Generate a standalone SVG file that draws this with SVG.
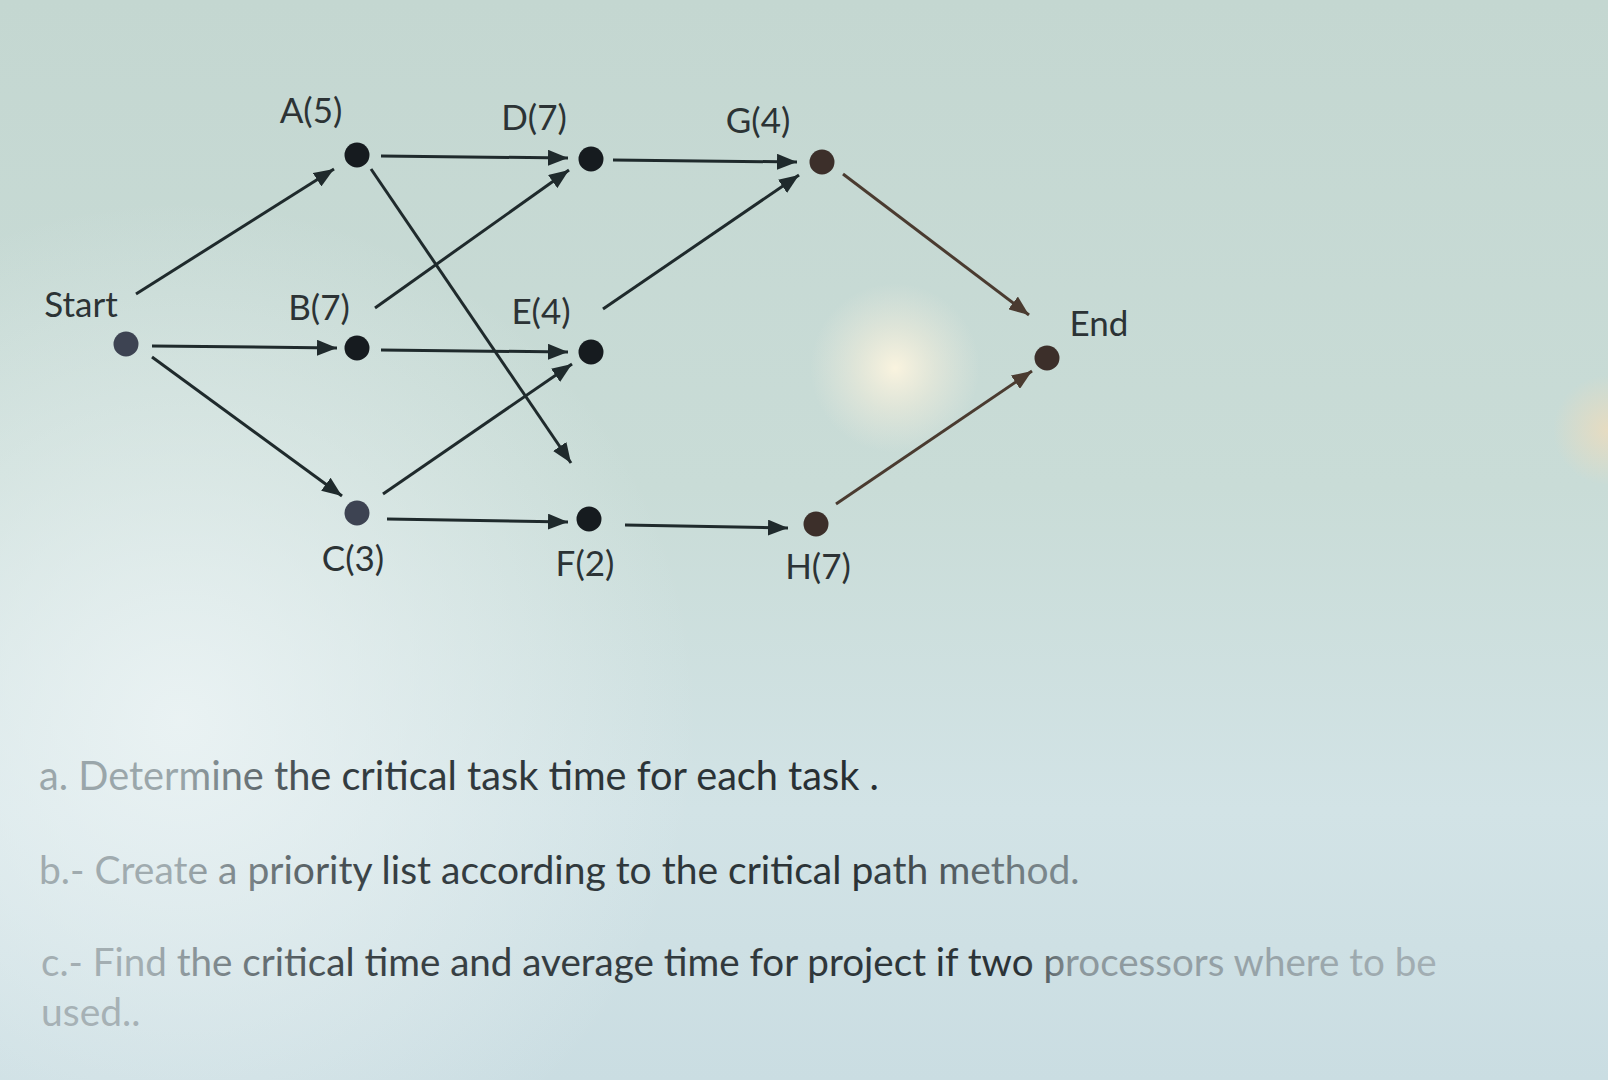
<svg xmlns="http://www.w3.org/2000/svg" width="1608" height="1080" viewBox="0 0 1608 1080">
<defs>
<linearGradient id="bg" x1="0" y1="0" x2="0" y2="1">
<stop offset="0" stop-color="#c4d7d1"/>
<stop offset="0.45" stop-color="#c9dcd7"/>
<stop offset="0.75" stop-color="#d2e3e6"/>
<stop offset="1" stop-color="#cadde2"/>
</linearGradient>
<radialGradient id="glowL" cx="180" cy="720" r="520" gradientUnits="userSpaceOnUse">
<stop offset="0" stop-color="#eef5f6" stop-opacity="0.85"/>
<stop offset="1" stop-color="#eef5f6" stop-opacity="0"/>
</radialGradient>
<radialGradient id="glowW" cx="895" cy="368" r="85" gradientUnits="userSpaceOnUse">
<stop offset="0" stop-color="#fff6e0" stop-opacity="0.9"/>
<stop offset="0.5" stop-color="#f8f0dc" stop-opacity="0.45"/>
<stop offset="1" stop-color="#f3eee0" stop-opacity="0"/>
</radialGradient>
<radialGradient id="glowR" cx="1608" cy="430" r="55" gradientUnits="userSpaceOnUse">
<stop offset="0" stop-color="#f3dcb8" stop-opacity="0.7"/>
<stop offset="1" stop-color="#f3dcb8" stop-opacity="0"/>
</radialGradient>
<linearGradient id="ta" x1="0" y1="0" x2="900" y2="0" gradientUnits="userSpaceOnUse">
<stop offset="0.2" stop-color="#9aa6aa"/>
<stop offset="0.36" stop-color="#343c40"/>
<stop offset="1" stop-color="#262d31"/>
</linearGradient>
<linearGradient id="tb" x1="0" y1="0" x2="1100" y2="0" gradientUnits="userSpaceOnUse">
<stop offset="0.16" stop-color="#a0abaf"/>
<stop offset="0.34" stop-color="#363e42"/>
<stop offset="0.78" stop-color="#2a3236"/>
<stop offset="0.95" stop-color="#7b878c"/>
</linearGradient>
<linearGradient id="tc" x1="0" y1="0" x2="1460" y2="0" gradientUnits="userSpaceOnUse">
<stop offset="0.1" stop-color="#a3aeb2"/>
<stop offset="0.24" stop-color="#3a4246"/>
<stop offset="0.7" stop-color="#2a3236"/>
<stop offset="0.735" stop-color="#8b979c"/>
<stop offset="1" stop-color="#a4b0b5"/>
</linearGradient>
<marker id="ah" viewBox="0 0 20 16" refX="20" refY="8" markerWidth="20" markerHeight="16" markerUnits="userSpaceOnUse" orient="auto">
<path d="M0,0 L20,8 L0,16 Z" fill="#1f2a2c"/>
</marker>
<marker id="ahb" viewBox="0 0 20 16" refX="20" refY="8" markerWidth="20" markerHeight="16" markerUnits="userSpaceOnUse" orient="auto">
<path d="M0,0 L20,8 L0,16 Z" fill="#4a3b30"/>
</marker>
</defs>
<style>
.lbl { font-family: Lato, "Liberation Sans", sans-serif; font-size: 35px; fill: #2c3335; text-anchor: middle; }
.q { font-family: Lato, "Liberation Sans", sans-serif; font-size: 39px; }
.edge { stroke: #1f2a2c; stroke-width: 3; fill: none; marker-end: url(#ah); }
.edge.br { stroke: #4a3b30; marker-end: url(#ahb); }
.dot { fill: #161b1f; }
.dot.gray { fill: #3d4352; }
.dot.brown { fill: #3c2f2a; }
</style>
<rect width="1608" height="1080" fill="url(#bg)"/>
<rect width="1608" height="1080" fill="url(#glowL)"/>
<rect width="1608" height="1080" fill="url(#glowW)"/>
<rect width="1608" height="1080" fill="url(#glowR)"/>

<g id="connectors">
<line class="edge" x1="136" y1="294" x2="334" y2="169"/>
<line class="edge" x1="152" y1="346" x2="337" y2="348"/>
<line class="edge" x1="152" y1="357" x2="342" y2="496"/>
<line class="edge" x1="381" y1="156" x2="568" y2="158"/>
<line class="edge" x1="371" y1="169" x2="571" y2="463"/>
<line class="edge" x1="375" y1="308" x2="569" y2="170"/>
<line class="edge" x1="381" y1="350" x2="568" y2="352"/>
<line class="edge" x1="383" y1="494" x2="572" y2="364"/>
<line class="edge" x1="387" y1="519" x2="568" y2="522"/>
<line class="edge" x1="613" y1="160" x2="797" y2="162"/>
<line class="edge" x1="603" y1="309" x2="799" y2="175"/>
<line class="edge" x1="625" y1="525" x2="788" y2="528"/>
<line class="edge br" x1="843" y1="174" x2="1029" y2="315"/>
<line class="edge br" x1="836" y1="504" x2="1032" y2="371"/>
</g>

<g id="node-start"><circle class="dot gray" cx="126" cy="344" r="12.5"/><text class="lbl" x="81" y="317">Start</text></g>
<g id="node-a"><circle class="dot" cx="357" cy="155" r="12.5"/><text class="lbl" x="311" y="123">A(5)</text></g>
<g id="node-b"><circle class="dot" cx="357" cy="348" r="12.5"/><text class="lbl" x="319" y="320">B(7)</text></g>
<g id="node-c"><circle class="dot gray" cx="357" cy="513" r="12.5"/><text class="lbl" x="353" y="571">C(3)</text></g>
<g id="node-d"><circle class="dot" cx="591" cy="159" r="12.5"/><text class="lbl" x="534" y="130">D(7)</text></g>
<g id="node-e"><circle class="dot" cx="591" cy="352" r="12.5"/><text class="lbl" x="541" y="324">E(4)</text></g>
<g id="node-f"><circle class="dot" cx="589" cy="519" r="12.5"/><text class="lbl" x="585" y="576">F(2)</text></g>
<g id="node-g"><circle class="dot brown" cx="822" cy="162" r="12.5"/><text class="lbl" x="758" y="133">G(4)</text></g>
<g id="node-h"><circle class="dot brown" cx="816" cy="524" r="12.5"/><text class="lbl" x="818" y="579">H(7)</text></g>
<g id="node-end"><circle class="dot brown" cx="1047" cy="358" r="12.5"/><text class="lbl" x="1099" y="336">End</text></g>

<g id="questions">
<text class="q" x="39" y="790" fill="url(#ta)" style="font-size:39.7px">a. Determine the critical task time for each task .</text>
<text class="q" x="39" y="884" fill="url(#tb)">b.- Create a priority list according to the critical path method.</text>
<text class="q" x="41" y="976" fill="url(#tc)" style="font-size:38.6px">c.- Find the critical time and average time for project if two processors where to be</text>
<text class="q" x="41" y="1026" fill="#a6b1b5">used..</text>
</g>
</svg>
